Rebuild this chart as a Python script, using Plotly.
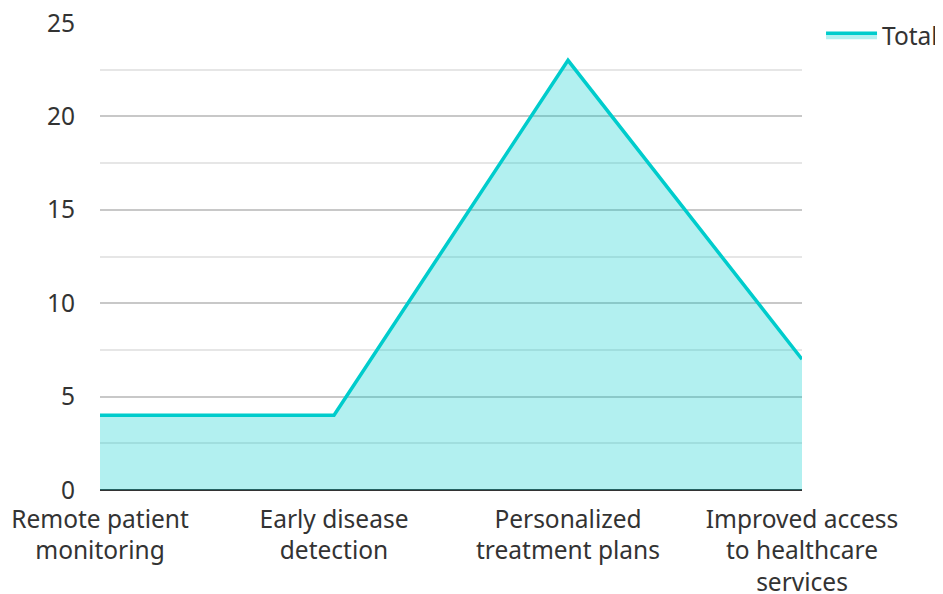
import plotly.graph_objects as go

categories = ["Remote patient<br>monitoring", "Early disease<br>detection",
              "Personalized<br>treatment plans", "Improved access<br>to healthcare<br>services"]
totals = [4, 4, 23, 7]
series_name = "Total"

fig = go.Figure()
fig.add_trace(go.Scatter(
    x=categories, y=totals, name=series_name, mode="lines",
    line=dict(color="#00cccc", width=3.5),
    fill="tozeroy", fillcolor="rgba(0,204,204,0.3)",
    showlegend=True,
))

font = dict(family="Noto Sans", size=24.5, color="#333333")
# page body has an 8px margin, so the figure is sized/offset to compensate
fig.update_layout(
    width=935, height=586,
    margin=dict(l=92, r=141, t=15, b=104, autoexpand=False),
    paper_bgcolor="white", plot_bgcolor="white",
    font=font,
    showlegend=True,
    legend=dict(x=1.2009, y=1.022, xanchor="right", yanchor="top",
                itemwidth=51,
                font=font,
                bgcolor="rgba(0,0,0,0)"),
    xaxis=dict(range=[0, 3], showgrid=False, zeroline=False, showline=False,
               automargin=False, ticklabeloverflow="allow",
               ticks="", tickfont=font, ticklabelstandoff=12),
    yaxis=dict(range=[0, 25], dtick=5, showgrid=True, gridcolor="#c8c8c8", gridwidth=1.5,
               zeroline=True, zerolinecolor="#333333", zerolinewidth=2,
               automargin=False, ticklabeloverflow="allow",
               showline=False, ticks="", tickfont=font, ticklabelstandoff=24,
               minor=dict(dtick=2.5, showgrid=True, gridcolor="#e6e6e6", gridwidth=1.5)),
)

fig.write_html("out.html")
